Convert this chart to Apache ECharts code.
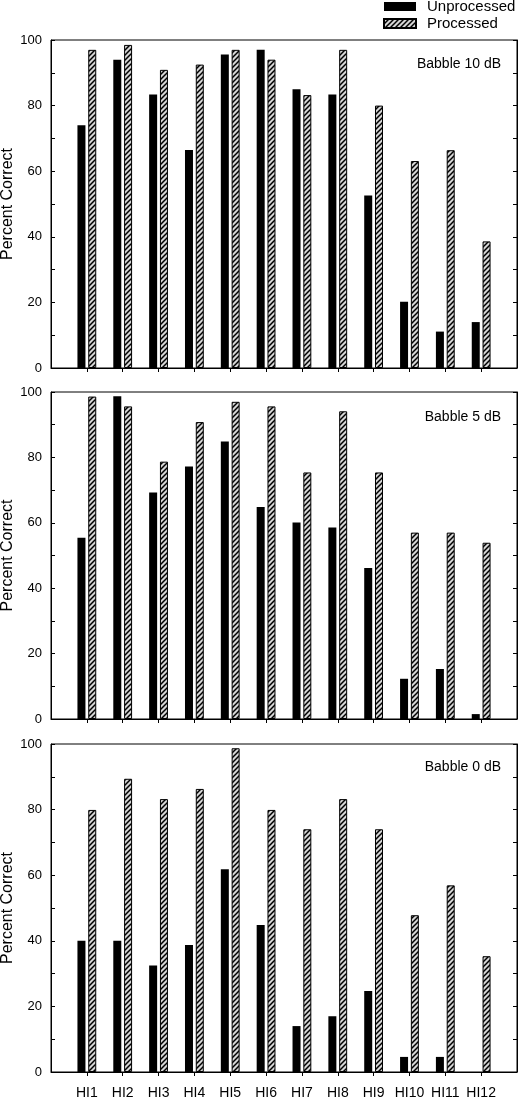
<!DOCTYPE html>
<html>
<head>
<meta charset="utf-8">
<script src="https://cdn.jsdelivr.net/npm/echarts@6/dist/echarts.min.js"></script>
<style>
html,body{margin:0;padding:0;background:#fff;}
#chart{width:520px;height:1098px;}
</style>
</head>
<body>
<div id="chart"></div>
<script>
// ---- data ----
const categories = ['HI1','HI2','HI3','HI4','HI5','HI6','HI7','HI8','HI9','HI10','HI11','HI12'];
const panelTitles = ['Babble 10 dB','Babble 5 dB','Babble 0 dB'];
const seriesNames = ['Unprocessed','Processed'];
const yTicks = [0,20,40,60,80,100];

const unprocessed10 = [74, 94, 83.4, 66.5, 95.6, 97, 85, 83.4, 52.6, 20.2, 11.1, 14];
const processed10   = [97, 98.5, 90.9, 92.5, 97, 94, 83.2, 97, 80, 63.1, 66.4, 38.6];
const unprocessed5  = [55.4, 98.7, 69.3, 77.2, 84.9, 64.8, 60.1, 58.6, 46.2, 12.3, 15.3, 1.5];
const processed5    = [98.6, 95.6, 78.7, 90.8, 97, 95.6, 75.4, 94.1, 75.4, 57, 57, 53.9];
const unprocessed0  = [40, 40, 32.5, 38.7, 61.8, 44.8, 14, 17, 24.7, 4.6, 4.6, 0];
const processed0    = [79.9, 89.4, 83.2, 86.3, 98.7, 79.9, 74, 83.2, 74, 47.8, 56.9, 35.3];

const unprocessedSets = [unprocessed10, unprocessed5, unprocessed0];
const processedSets = [processed10, processed5, processed0];

// ---- hatch pattern ----
function makeHatch(){
  const s = 5;
  const c = document.createElement('canvas');
  c.width = s; c.height = s;
  const g = c.getContext('2d');
  g.fillStyle = '#d4d4d4';
  g.fillRect(0,0,s,s);
  g.strokeStyle = '#000';
  g.lineWidth = 1.5;
  g.beginPath();
  g.moveTo(0,s); g.lineTo(s,0);
  g.moveTo(-1,1); g.lineTo(1,-1);
  g.moveTo(s-1,s+1); g.lineTo(s+1,s-1);
  g.stroke();
  return c;
}
const hatch = {image: makeHatch(), repeat: 'repeat'};

const xData = [''].concat(categories, ['']);
const pad = arr => [null].concat(arr, [null]);

const grids = [
  {left: 51, right: 3, top: 40, height: 328},
  {left: 51, right: 3, top: 392, height: 327},
  {left: 51, right: 3, top: 744, height: 328}
];
const titleY = [65, 418, 768];

const font = 'Liberation Sans, Arial, Helvetica, sans-serif';

const option = {
  animation: false,
  backgroundColor: '#fff',
  textStyle: {fontFamily: font, color: '#000'},
  legend: {
    orient: 'vertical',
    left: 383,
    top: -1,
    padding: 0,
    itemWidth: 32,
    itemHeight: 9,
    itemGap: 2,
    icon: 'rect',
    data: seriesNames,
    textStyle: {fontSize: 15, color: '#000', fontFamily: font, lineHeight: 15, padding: [0,0,0,6]},
    selectedMode: false
  },
  grid: grids.map(g => Object.assign({show: true, borderColor: '#000', borderWidth: 1, backgroundColor: 'transparent', containLabel: false, outerBoundsMode: 'none'}, g)),
  xAxis: grids.map((g, i) => ({
    type: 'category',
    gridIndex: i,
    data: xData,
    boundaryGap: false,
    axisLine: {show: true, lineStyle: {color: '#000', width: 1}},
    axisTick: {show: true, inside: false, length: 4, lineStyle: {color: '#000'},
      interval: (idx) => idx > 0 && idx < xData.length - 1},
    axisLabel: {show: i === 2, interval: 0, fontSize: 14, color: '#000', margin: 14, fontFamily: font},
    splitLine: {show: false}
  })),
  yAxis: [],
  series: [],
  graphic: []
};

grids.forEach((g, i) => {
  option.yAxis.push({
    type: 'value', gridIndex: i, min: 0, max: 100, interval: 10, position: 'left',
    name: 'Percent Correct', nameLocation: 'middle', nameGap: 35, nameMoveOverlap: false,
    nameTextStyle: {fontSize: 16, color: '#000', fontFamily: font},
    axisLine: {show: true, lineStyle: {color: '#000', width: 1}},
    axisTick: {show: true, inside: true, length: 4, lineStyle: {color: '#000'}},
    axisLabel: {fontSize: 13, color: '#000', margin: 9, fontFamily: font,
      formatter: v => (yTicks.indexOf(v) >= 0 ? String(v) : '')},
    splitLine: {show: false}
  });
  option.yAxis.push({
    type: 'value', gridIndex: i, min: 0, max: 100, interval: 10, position: 'right',
    axisLine: {show: true, lineStyle: {color: '#000', width: 1}},
    axisTick: {show: true, inside: true, length: 4, lineStyle: {color: '#000'}},
    axisLabel: {show: false},
    splitLine: {show: false}
  });
  option.series.push({
    name: seriesNames[0], type: 'bar', xAxisIndex: i, yAxisIndex: i * 2,
    data: pad(unprocessedSets[i]), barWidth: 8, barGap: '35%',
    itemStyle: {color: '#000'}
  });
  option.series.push({
    name: seriesNames[1], type: 'bar', xAxisIndex: i, yAxisIndex: i * 2,
    data: pad(processedSets[i]), barWidth: 8, barGap: '35%',
    itemStyle: {color: hatch, borderColor: '#000', borderWidth: 1}
  });
  option.graphic.push({
    type: 'text', right: 19, top: titleY[i] - 8,
    style: {text: panelTitles[i], fontSize: 14, fontFamily: font, fill: '#000'}
  });
});

const chart = echarts.init(document.getElementById('chart'), null, {renderer: 'canvas'});
chart.setOption(option);
</script>
</body>
</html>
